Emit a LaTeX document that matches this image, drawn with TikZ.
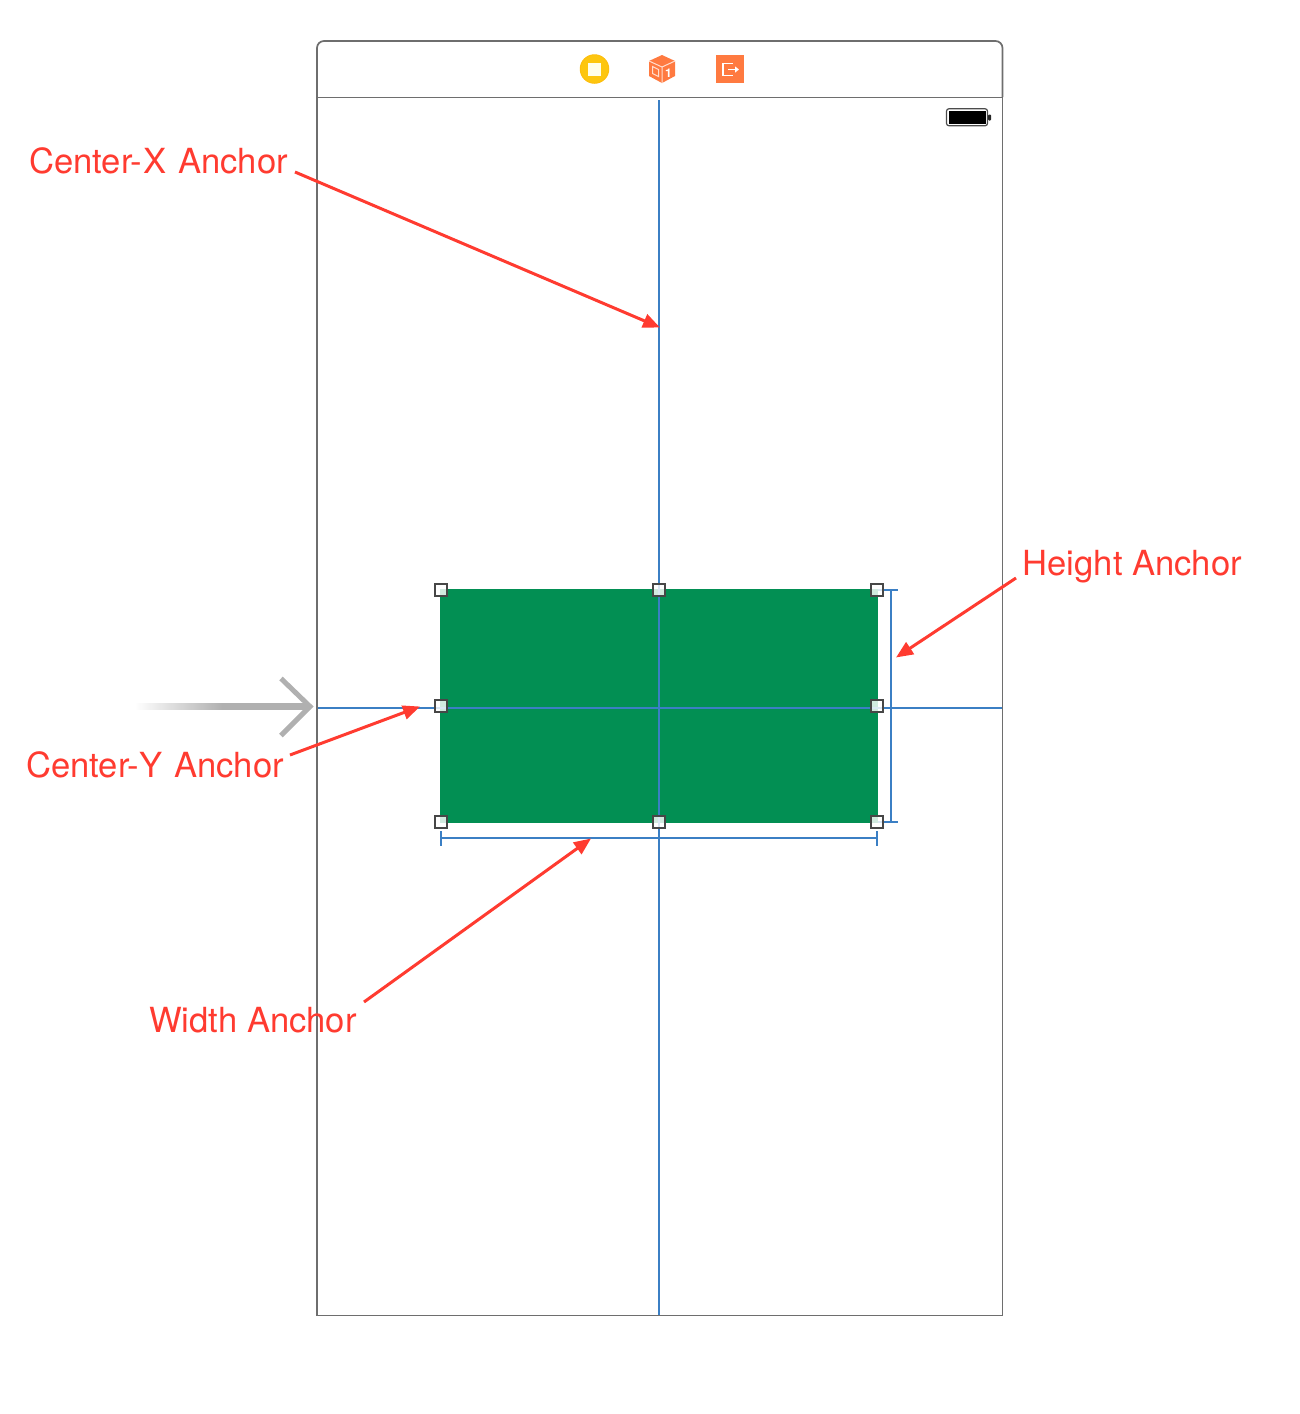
\documentclass[tikz,border=0pt]{standalone}
\usepackage{fontspec}
\setmainfont{TeX Gyre Heros}
\usetikzlibrary{arrows.meta}
\definecolor{guide}{HTML}{3B7FC4}
\definecolor{anno}{HTML}{FF3B30}
\definecolor{frameg}{HTML}{6E6E6E}
\definecolor{viewg}{HTML}{028F53}
\definecolor{orangeic}{HTML}{FF7A40}
\definecolor{yellowic}{HTML}{FDC60F}
\definecolor{shaftg}{HTML}{B0B0B0}
\pgfdeclarehorizontalshading{shaftfade}{100bp}{color(0bp)=(white); color(25bp)=(white); color(50bp)=(shaftg); color(100bp)=(shaftg)}
\tikzset{
  x=1pt,y=-1pt,
  guideline/.style={draw=guide,line width=2pt},
  handle/.style={draw=black!72,fill=white,fill opacity=0.82,line width=2pt,minimum size=11.5pt,inner sep=0pt,rectangle},
  label/.style={text=anno,font=\fontsize{34.6}{34.6}\selectfont,inner sep=0pt,anchor=base west},
  pointer/.style={draw=anno,line width=3pt,-{Triangle[length=17pt,width=14pt]}},
  framed/.style={draw=frameg,line width=1.7pt},
}
\begin{document}
\begin{tikzpicture}
\useasboundingbox (0,0) rectangle (1300,1414);
% frame
\draw[framed,rounded corners=7pt] (317,97) -- (317,41) -- (1002.5,41) -- (1002.5,97);
\draw[framed] (317,97) -- (317,1315.5) -- (1002.5,1315.5) -- (1002.5,97);
\draw[draw=frameg,line width=1.5pt] (317,97.5) -- (1002.5,97.5);
% battery
\draw[draw=black!70,fill=white,line width=1.2pt,rounded corners=2.5pt] (946.5,108.7) rectangle (987.5,125.8);
\fill[black] (948.7,110.7) rectangle (985.5,123.8);
\fill[black!85,rounded corners=1pt] (988,114.5) rectangle (991,120.5);
% green view
\node[fill=viewg,inner sep=0pt,minimum width=438pt,minimum height=234pt,anchor=north west] (view) at (440,589) {};
% guides
\coordinate (cxtop) at (658.5,100);
\coordinate (cxbot) at (658.5,1315);
\coordinate (cyl) at (318,708);
\coordinate (cyr) at (1002,708);
\draw[guideline] (cxtop) -- (cxbot);
\draw[guideline] (cyl) -- (cyr);
% height bracket
\coordinate (ht) at (890.5,590);
\coordinate (hb) at (890.5,822);
\draw[guideline] (ht) -- (hb);
\draw[guideline] (878,590) -- (898,590);
\draw[guideline] (878,822) -- (898,822);
% width bracket
\coordinate (wl) at (440.5,838);
\coordinate (wr) at (876.5,838);
\draw[guideline] (wl) -- (wr);
\draw[guideline] (440.5,831) -- (440.5,846);
\draw[guideline] (876.5,831) -- (876.5,846);
% handles
\node[handle] (h1) at (441,590) {};
\node[handle] (h2) at (659,590) {};
\node[handle] (h3) at (877,590) {};
\node[handle] (h4) at (441,706) {};
\node[handle] (h5) at (877,706) {};
\node[handle] (h6) at (441,822) {};
\node[handle] (h7) at (659,822) {};
\node[handle] (h8) at (877,822) {};
% entry arrow
\shade[shading=shaftfade,draw=none] (135,703.7) rectangle (310,709.7);
\draw[draw=shaftg,line width=5pt,line cap=butt] (281,678.5) -- (310,706.5) -- (281,735.5);
% icons
\node[circle,fill=yellowic,draw=yellowic!88!orange,line width=1pt,minimum size=28.5pt,inner sep=0pt] (stop) at (594.5,69) {};
\node[fill=white!92!yellow,minimum size=13pt,inner sep=0pt] at (stop) {};
\fill[orangeic] (662,55) -- (675,61) -- (675,76) -- (662,83) -- (649,76) -- (649,61) -- cycle;
\draw[white!75!orangeic,line width=1pt] (649,61) -- (662,67) -- (675,61) (662,67) -- (662,83);
\draw[white!75!orangeic,line width=1pt] (652.5,66.5) -- (658.5,69.5) -- (658.5,76.5) -- (652.5,73.5) -- cycle;
\node[text=white,inner sep=0pt,font=\bfseries\fontsize{12}{12}\selectfont] at (668.5,73) {1};
\node[fill=orangeic,minimum size=28pt,inner sep=0pt] (exit) at (730,69) {};
\draw[white,line width=1.4pt] (733,63.5) -- (723,63.5) -- (723,75.5) -- (733,75.5);
\draw[white,line width=1.5pt,-{Triangle[length=4pt,width=6pt]}] (728,69.5) -- (739,69.5);
% labels
\node[label] (lx) at (29,173) {Center-\kern1.5pt X\kern1.5pt\ Anchor};
\node[label] (lh) at (1022.5,575) {Height Anchor};
\node[label] (ly) at (26,777) {Center-\kern0pt Y\kern2pt\ Anchor};
\node[label] (lw) at (149,1032) {Width Anchor};
% pointers
\coordinate (px0) at (295,172);
\coordinate (px1) at (660,327.5);
\coordinate (ph0) at (1016,578);
\coordinate (ph1) at (896,657.5);
\coordinate (py0) at (290,755);
\coordinate (py1) at (420,706.5);
\coordinate (pw0) at (364,1002);
\coordinate (pw1) at (591,838.5);
\draw[pointer] (px0) -- (px1);
\draw[pointer] (ph0) -- (ph1);
\draw[pointer] (py0) -- (py1);
\draw[pointer] (pw0) -- (pw1);
\end{tikzpicture}
\end{document}
